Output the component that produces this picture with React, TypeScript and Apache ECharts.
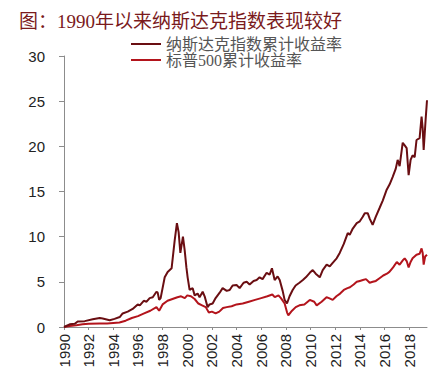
import React, { useEffect, useRef } from "react";
import * as echarts from "echarts";

const titleText = "图：1990年以来纳斯达克指数表现较好";
const seriesNames = ["纳斯达克指数累计收益率", "标普500累计收益率"];
const yTicks = [0, 5, 10, 15, 20, 25, 30];

const nasdaqYears = [
  1990.0, 1990.46, 1990.87, 1991.11, 1991.68, 1992.33, 1992.9, 1993.14, 1993.71, 1994.1,
  1994.52, 1994.76, 1995.17, 1995.57, 1995.98, 1996.15, 1996.47, 1996.7, 1996.95, 1997.2,
  1997.5, 1997.6, 1997.72, 1997.84, 1998.17, 1998.41, 1998.73, 1998.98, 1999.16, 1999.3,
  1999.44, 1999.65, 1999.79, 1999.93, 2000.03, 2000.19, 2000.44, 2000.6, 2000.84, 2001.0,
  2001.25, 2001.41, 2001.65, 2001.81, 2002.06, 2002.3, 2002.63, 2002.87, 2003.2, 2003.44,
  2003.68, 2004.0, 2004.25, 2004.57, 2004.82, 2005.06, 2005.38, 2005.63, 2005.87, 2006.11,
  2006.44, 2006.68, 2006.87, 2007.09, 2007.33, 2007.5, 2007.74, 2007.9, 2008.09, 2008.3,
  2008.55, 2008.79, 2009.1, 2009.38, 2009.62, 2009.94, 2010.18, 2010.42, 2010.75, 2010.99,
  2011.31, 2011.56, 2011.8, 2012.12, 2012.37, 2012.7, 2013.02, 2013.18, 2013.43, 2013.75,
  2014.0, 2014.24, 2014.4, 2014.64, 2014.8, 2015.04, 2015.29, 2015.61, 2015.86, 2016.18,
  2016.42, 2016.66, 2016.91, 2017.07, 2017.23, 2017.48, 2017.64, 2017.8, 2017.96, 2018.12,
  2018.28, 2018.45, 2018.6, 2018.85, 2019.01, 2019.1, 2019.18, 2019.34, 2019.45,
];
const nasdaqValues = [
  0, 0.3, 0.35, 0.6, 0.65, 0.85, 1.0, 0.95, 0.75, 0.9,
  1.1, 1.5, 1.7, 2.0, 2.5, 2.4, 2.9, 2.8, 3.2, 3.3,
  3.9, 3.8, 3.0, 3.2, 5.5, 6.1, 6.5, 9.6, 11.5, 10.5,
  8.2, 10.0, 8.5, 6.6, 5.5, 4.1, 4.3, 3.5, 3.7, 3.3,
  3.9, 3.4, 2.2, 2.5, 2.6, 3.2, 3.8, 4.3, 4.0, 4.1,
  4.6, 4.65, 4.3, 4.9, 5.0, 4.7, 5.1, 5.2, 5.5, 5.3,
  6.0, 5.8, 6.5, 5.2, 5.6, 5.2, 4.0, 3.0, 2.6, 3.4,
  4.1, 4.6, 4.9, 5.2, 5.5, 6.0, 6.3, 5.9, 5.5, 6.3,
  6.9, 6.7, 7.1, 7.6, 8.2, 9.2, 10.4, 10.2, 10.9, 11.5,
  11.7, 12.2, 12.6, 12.6, 12.0, 11.3, 12.2, 13.2, 14.0, 15.2,
  15.8, 16.6, 17.5, 18.5, 17.8, 20.4, 20.1, 19.8, 16.8, 18.5,
  19.0, 18.8, 20.7, 20.9, 23.3, 22.0, 19.6, 23.0, 25.1,
];

const spYears = [
  1990.0, 1990.46, 1991.0, 1991.5, 1992.0, 1992.9, 1993.5, 1994.0, 1994.5, 1995.0,
  1995.5, 1996.0, 1996.5, 1997.0, 1997.5, 1997.72, 1998.0, 1998.4, 1998.8, 1999.2,
  1999.5, 1999.8, 2000.0, 2000.3, 2000.6, 2000.9, 2001.2, 2001.5, 2001.75, 2002.0,
  2002.3, 2002.6, 2002.9, 2003.2, 2003.6, 2004.0, 2004.5, 2005.0, 2005.5, 2006.0,
  2006.5, 2006.9, 2007.1, 2007.4, 2007.6, 2007.9, 2008.1, 2008.2, 2008.5, 2008.8,
  2009.1, 2009.5, 2009.94, 2010.3, 2010.5, 2010.9, 2011.3, 2011.5, 2011.8, 2012.1,
  2012.4, 2012.7, 2013.0, 2013.2, 2013.5, 2013.75, 2014.0, 2014.25, 2014.5, 2014.8,
  2015.05, 2015.3, 2015.6, 2015.9, 2016.2, 2016.4, 2016.7, 2017.0, 2017.23, 2017.5,
  2017.64, 2017.8, 2017.96, 2018.12, 2018.28, 2018.6, 2018.85, 2019.01, 2019.1, 2019.18,
  2019.3, 2019.45,
];
const spValues = [
  0, 0.1, 0.2, 0.3, 0.35, 0.4, 0.4, 0.45, 0.5, 0.7,
  1.0, 1.2, 1.5, 1.8, 2.2, 1.8, 2.5, 2.9, 3.1, 3.3,
  3.4, 3.2, 3.5, 3.4, 3.1, 2.6, 2.4, 2.2, 1.6, 1.7,
  1.5, 1.7, 2.1, 2.2, 2.3, 2.5, 2.6, 2.8, 3.0, 3.2,
  3.4, 3.6, 3.3, 3.5, 3.2, 2.6, 1.6, 1.3, 1.8, 2.2,
  2.4, 2.5, 3.0, 2.8, 2.4, 2.8, 3.3, 3.2, 3.0, 3.4,
  3.7, 4.1, 4.3, 4.4, 4.7, 5.0, 5.1, 5.2, 5.3, 4.9,
  5.0, 5.1, 5.4, 5.7, 5.9, 6.1, 6.6, 7.2, 6.9, 7.4,
  7.6, 7.3, 6.6, 7.2, 7.6, 8.0, 8.1, 8.7, 8.2, 6.9,
  7.8, 8.0,
];

const colors = ["#6A0E12", "#B3141C"];

export default function App() {
  const ref = useRef<HTMLDivElement>(null);
  useEffect(() => {
    if (!ref.current) return;
    const chart = echarts.init(ref.current, undefined, { renderer: "svg" });
    const nasdaq = nasdaqYears.map((y, i) => [y, nasdaqValues[i]]);
    const sp = spYears.map((y, i) => [y, spValues[i]]);
    chart.setOption({
      animation: false,
      backgroundColor: "#ffffff",
      title: {
        text: titleText,
        left: 14,
        top: 7,
        textStyle: {
          color: "#7A1A1C",
          fontSize: 19,
          fontWeight: "normal",
          fontFamily: "'Liberation Serif', 'Noto Sans CJK SC', serif",
        },
      },
      legend: {
        orient: "vertical",
        left: 126,
        top: 31,
        icon: "rect",
        itemWidth: 30,
        itemHeight: 2,
        itemGap: 0,
        data: seriesNames,
        textStyle: {
          color: "#555555",
          fontSize: 16,
          lineHeight: 14,
          fontFamily: "'Liberation Serif', 'Noto Sans CJK SC', serif",
        },
      },
      grid: { left: 64, right: 14, top: 56, bottom: 50, containLabel: false },
      xAxis: {
        type: "value",
        min: 1990,
        max: 2019.45,
        interval: 2,
        splitLine: { show: false },
        axisLine: { show: true, lineStyle: { color: "#8c8c8c", width: 1 } },
        axisTick: { show: true, length: 3, lineStyle: { color: "#8c8c8c" } },
        axisLabel: {
          rotate: 90,
          margin: 7,
          fontSize: 15,
          color: "#222222",
          fontFamily: "'Liberation Sans', Arial, sans-serif",
          showMaxLabel: false,
          formatter: (v: number) => (Number.isInteger(v) && v % 2 === 0 ? String(v) : ""),
        },
      },
      yAxis: {
        type: "value",
        min: yTicks[0],
        max: yTicks[yTicks.length - 1],
        interval: 5,
        splitLine: { show: false },
        axisLine: { show: true, lineStyle: { color: "#8c8c8c", width: 1 } },
        axisTick: { show: true, length: 5, lineStyle: { color: "#8c8c8c" } },
        axisLabel: {
          margin: 19,
          fontSize: 15,
          color: "#222222",
          fontFamily: "'Liberation Sans', Arial, sans-serif",
        },
      },
      series: [
        {
          name: seriesNames[0],
          type: "line",
          data: nasdaq,
          showSymbol: false,
          symbol: "none",
          lineStyle: { color: colors[0], width: 2 },
          itemStyle: { color: colors[0] },
          z: 3,
        },
        {
          name: seriesNames[1],
          type: "line",
          data: sp,
          showSymbol: false,
          symbol: "none",
          lineStyle: { color: colors[1], width: 2 },
          itemStyle: { color: colors[1] },
          z: 2,
        },
      ],
    });
    return () => chart.dispose();
  }, []);
  return (
    <div
      ref={ref}
      style={{ position: "fixed", left: 0, top: 0, width: 441, height: 377 }}
    />
  );
}
